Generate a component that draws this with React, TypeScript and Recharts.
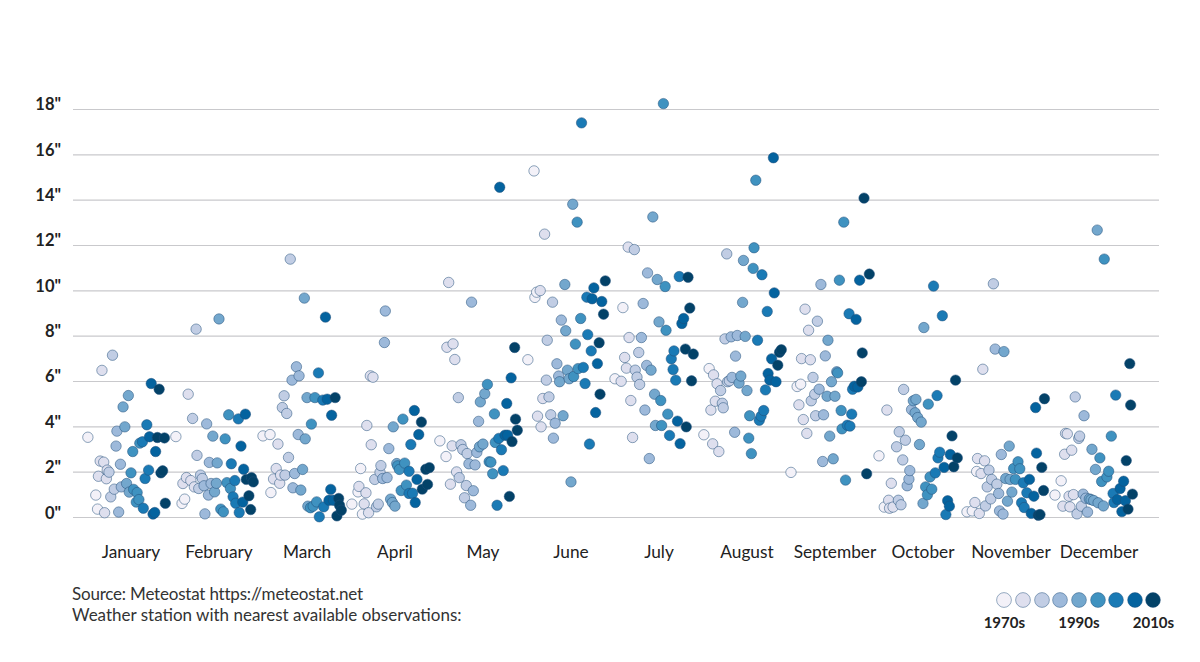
import * as React from "react";
import { ScatterChart, Scatter, CartesianGrid, XAxis, YAxis } from "recharts";

// one point per year: [position around the month tick, inches of rain, decade shade]
type Row = [number, number, number];

const months = ["January", "February", "March", "April", "May", "June", "July", "August", "September", "October", "November", "December"];
const yTicks = [0, 2, 4, 6, 8, 10, 12, 14, 16, 18];
const shades = ["#f3f1f8", "#dedfee", "#c1cde4", "#9db9da", "#73a7cd", "#3f92c0", "#1a7ab5", "#04639f", "#034268"];
const legendLabels = ["1970s", "", "", "", "1990s", "", "", "", "2010s"];

const january: Row[] = [
  [-.49, 3.54, 0], [-.40, .99, 0], [-.38, .37, 0], [-.37, 1.82, 1], [-.35, 2.49, 1], [-.33, 6.49, 1], [-.31, 2.44, 1], [-.30, .21, 1],
  [-.28, 1.71, 1], [-.27, 2.09, 1], [-.25, 2.0, 2], [-.23, .91, 2], [-.21, 7.16, 2], [-.19, 1.25, 2], [-.17, 3.15, 3], [-.16, 3.81, 3],
  [-.14, .24, 3], [-.12, 2.35, 3], [-.11, 1.35, 3], [-.09, 4.88, 4], [-.07, 4.0, 4], [-.05, 1.5, 4], [-.03, 5.38, 4], [-.02, 1.12, 4],
  [0, 1.97, 5], [.02, 2.91, 5], [.03, 1.24, 5], [.06, .68, 5], [.07, 1.1, 5], [.09, .79, 5], [.10, 3.28, 5], [.13, 3.34, 6],
  [.14, .41, 6], [.16, 1.72, 6], [.18, 4.09, 6], [.20, 2.09, 6], [.21, 3.56, 7], [.23, 5.91, 7], [.25, .15, 7], [.27, .22, 7],
  [.28, 2.91, 7], [.30, 3.53, 8], [.32, 5.66, 8], [.34, 1.97, 8], [.36, 2.06, 8], [.38, 3.51, 8], [.39, .63, 8],
];
const february: Row[] = [
  [-.49, 3.57, 0], [-.42, .62, 0], [-.41, 1.5, 1], [-.39, .81, 0], [-.37, 1.76, 1], [-.35, 5.44, 1], [-.32, 1.63, 1], [-.30, 4.37, 2],
  [-.28, 1.35, 1], [-.26, 8.31, 2], [-.25, 2.74, 2], [-.23, 1.28, 2], [-.21, 1.87, 2], [-.19, 1.72, 2], [-.17, 1.4, 3], [-.16, .16, 3],
  [-.14, 4.13, 3], [-.12, .99, 3], [-.11, 2.43, 3], [-.09, 1.5, 3], [-.07, 3.59, 4], [-.05, 1.13, 4], [-.03, 1.51, 4], [-.02, 2.41, 4],
  [0, 8.76, 4], [.02, .37, 5], [.05, .25, 5], [.07, 3.47, 5], [.09, 1.54, 5], [.11, 4.53, 5], [.13, 1.28, 5], [.14, 2.37, 6],
  [.16, .91, 6], [.18, 1.63, 6], [.19, .63, 6], [.22, 4.35, 6], [.23, .22, 6], [.25, 3.15, 7], [.27, .68, 7], [.28, 2.13, 7],
  [.30, 4.56, 7], [.31, 1.68, 8], [.34, .96, 8], [.36, .35, 8], [.37, 1.76, 8], [.39, 1.57, 8],
];
const march: Row[] = [
  [-.50, 3.6, 0], [-.42, 3.66, 0], [-.41, 1.1, 0], [-.38, 1.7, 1], [-.35, 2.16, 1], [-.33, 3.24, 1], [-.31, 1.51, 1], [-.30, 1.87, 1],
  [-.28, 4.85, 2], [-.26, 5.37, 2], [-.25, 1.87, 2], [-.23, 4.59, 2], [-.21, 2.65, 2], [-.19, 11.4, 2], [-.17, 6.06, 3], [-.16, 1.31, 3],
  [-.14, 1.94, 3], [-.12, 6.65, 3], [-.10, 3.66, 3], [-.09, 6.25, 3], [-.07, 1.21, 4], [-.05, 2.12, 4], [-.03, 9.68, 4], [-.02, 3.47, 4],
  [0, 5.29, 4], [.01, .5, 4], [.04, .43, 5], [.05, 4.12, 5], [.07, .5, 5], [.09, 5.29, 5], [.11, .69, 5], [.13, 6.38, 6],
  [.14, .03, 6], [.18, 5.18, 6], [.19, .47, 6], [.21, 8.84, 7], [.23, 5.22, 7], [.25, .76, 7], [.27, 1.24, 7], [.28, 4.51, 7],
  [.30, .76, 7], [.32, 5.29, 8], [.34, .07, 8], [.36, .84, 8], [.37, .54, 8], [.39, .32, 8],
];
const april: Row[] = [
  [-.49, .59, 0], [-.42, 1.13, 0], [-.41, 1.37, 1], [-.39, 2.16, 0], [-.37, .15, 0], [-.35, .6, 1], [-.33, 1.09, 1], [-.32, 4.06, 1],
  [-.30, .21, 1], [-.28, 6.25, 1], [-.27, 3.21, 1], [-.25, 6.19, 1], [-.23, 1.68, 2], [-.21, .47, 2], [-.19, .59, 2], [-.17, 1.99, 2],
  [-.16, 2.29, 2], [-.14, 1.72, 3], [-.12, 7.72, 3], [-.11, 9.11, 3], [-.09, 1.76, 3], [-.07, 3.04, 3], [-.05, .81, 4], [-.03, .66, 4],
  [-.02, 4.0, 4], [0, .5, 4], [.02, 2.38, 4], [.03, 2.28, 5], [.05, 2.12, 5], [.07, 1.19, 5], [.09, 4.34, 5], [.11, 2.4, 5],
  [.13, 1.43, 5], [.16, 1.06, 6], [.16, 2.04, 6], [.18, 3.22, 6], [.20, 1.07, 6], [.22, 4.72, 7], [.23, .66, 7], [.25, 1.68, 7],
  [.27, 3.66, 7], [.30, 4.21, 8], [.31, 1.25, 8], [.35, 2.13, 8], [.37, 1.46, 8], [.39, 2.2, 8],
];
const may: Row[] = [
  [-.49, 3.38, 0], [-.42, 2.69, 0], [-.41, 7.51, 1], [-.39, 10.37, 1], [-.37, 1.47, 1], [-.35, 3.16, 1], [-.34, 7.66, 1], [-.32, 6.97, 1],
  [-.30, 2.01, 1], [-.28, 5.29, 2], [-.27, 1.76, 2], [-.25, 3.21, 2], [-.23, 3.0, 2], [-.21, .87, 2], [-.19, 1.41, 2], [-.18, 2.82, 2],
  [-.16, 2.37, 3], [-.14, .54, 3], [-.13, 9.5, 3], [-.11, 1.18, 3], [-.09, 2.32, 3], [-.07, 2.87, 3], [-.05, 4.24, 3], [-.04, 3.12, 4],
  [-.03, 5.1, 4], [0, 3.24, 4], [.02, 5.46, 4], [.05, 5.87, 5], [.07, 2.46, 5], [.09, 2.44, 5], [.11, 1.93, 5], [.13, 4.57, 5],
  [.14, 3.31, 5], [.16, .54, 6], [.18, 3.49, 6], [.19, 14.57, 7], [.21, 2.99, 6], [.23, 2.07, 6], [.25, 3.63, 7], [.27, 5.03, 7],
  [.28, 3.63, 7], [.30, .93, 8], [.32, 6.16, 7], [.33, 3.35, 8], [.36, 7.5, 8], [.37, 4.34, 8], [.39, 3.85, 8],
];
const june: Row[] = [
  [-.49, 6.96, 0], [-.42, 15.29, 0], [-.41, 9.71, 0], [-.39, 9.94, 0], [-.38, 4.47, 1], [-.35, 10.01, 1], [-.34, 4.0, 1], [-.32, 5.25, 1],
  [-.30, 12.5, 1], [-.28, 6.06, 2], [-.27, 7.82, 2], [-.25, 5.32, 2], [-.23, 4.53, 2], [-.21, 9.5, 2], [-.20, 3.5, 3], [-.18, 4.16, 3],
  [-.16, 6.78, 3], [-.14, 6.24, 3], [-.13, 5.99, 4], [-.11, 8.71, 3], [-.09, 4.49, 4], [-.07, 10.28, 4], [-.06, 8.24, 4], [-.04, 6.5, 4],
  [-.02, 6.12, 4], [0, 1.57, 4], [.02, 13.82, 4], [.03, 6.22, 5], [.05, 7.65, 5], [.07, 13.03, 5], [.08, 6.57, 5], [.11, 8.78, 5],
  [.12, 17.41, 6], [.14, 6.62, 6], [.16, 5.91, 6], [.18, 9.72, 6], [.19, 8.07, 6], [.21, 3.24, 6], [.23, 7.35, 6], [.24, 9.65, 7],
  [.26, 10.13, 7], [.28, 4.63, 7], [.30, 6.79, 7], [.32, 7.71, 8], [.33, 5.44, 8], [.35, 9.53, 7], [.37, 8.97, 8], [.39, 10.44, 8],
];
const july: Row[] = [
  [-.50, 6.12, 0], [-.43, 6.01, 1], [-.41, 9.26, 0], [-.39, 7.06, 1], [-.37, 6.59, 1], [-.35, 11.93, 1], [-.34, 7.94, 1], [-.32, 5.16, 1],
  [-.30, 3.53, 1], [-.28, 11.82, 2], [-.27, 6.5, 2], [-.25, 6.19, 2], [-.23, 7.28, 2], [-.22, 5.87, 2], [-.20, 7.94, 3], [-.18, 9.44, 3],
  [-.16, 4.74, 3], [-.14, 6.71, 3], [-.13, 10.79, 3], [-.11, 2.6, 3], [-.09, 6.5, 4], [-.07, 13.26, 4], [-.05, 5.44, 4], [-.04, 4.06, 4],
  [-.02, 10.5, 4], [0, 8.63, 4], [.02, 5.16, 5], [.03, 4.06, 5], [.05, 18.26, 5], [.07, 10.19, 5], [.08, 8.26, 5], [.10, 4.56, 5],
  [.12, 3.62, 6], [.14, 7.0, 6], [.16, 6.53, 6], [.17, 7.35, 6], [.19, 6.06, 6], [.21, 4.25, 7], [.23, 10.63, 6], [.24, 3.26, 7],
  [.26, 8.56, 7], [.28, 8.78, 7], [.30, 7.43, 8], [.31, 4.0, 8], [.33, 10.6, 8], [.35, 9.24, 8], [.37, 6.03, 8], [.39, 7.21, 8],
];
const august: Row[] = [
  [-.49, 3.65, 0], [-.43, 6.57, 0], [-.41, 4.74, 1], [-.39, 3.25, 1], [-.38, 6.29, 1], [-.36, 5.13, 1], [-.34, 5.9, 1], [-.32, 2.91, 1],
  [-.30, 5.6, 2], [-.28, 5.04, 2], [-.27, 4.84, 2], [-.25, 7.88, 2], [-.23, 11.63, 2], [-.22, 5.99, 2], [-.20, 6.03, 2], [-.18, 7.97, 3],
  [-.17, 6.18, 3], [-.14, 3.76, 3], [-.13, 7.12, 3], [-.11, 8.03, 3], [-.09, 5.93, 4], [-.07, 6.24, 4], [-.05, 9.49, 4], [-.04, 11.34, 4],
  [-.02, 7.99, 4], [0, 5.6, 4], [.02, 3.5, 5], [.03, 4.49, 5], [.05, 2.82, 5], [.07, 10.99, 5], [.08, 11.9, 5], [.10, 14.88, 5],
  [.12, 7.82, 6], [.14, 4.29, 6], [.16, 4.47, 6], [.17, 10.71, 6], [.19, 4.72, 6], [.21, 5.63, 6], [.23, 9.09, 6], [.24, 6.35, 7],
  [.26, 6.06, 7], [.28, 7.0, 7], [.30, 15.87, 7], [.31, 9.91, 7], [.33, 5.99, 7], [.35, 6.72, 8], [.37, 7.29, 8], [.39, 7.4, 8],
];
const september: Row[] = [
  [-.50, 1.99, 0], [-.43, 5.78, 0], [-.41, 4.97, 1], [-.39, 5.88, 0], [-.38, 7.01, 1], [-.36, 4.32, 1], [-.34, 9.19, 1], [-.32, 3.71, 1],
  [-.30, 8.26, 1], [-.28, 6.96, 1], [-.27, 5.15, 2], [-.25, 6.18, 2], [-.23, 5.44, 2], [-.22, 4.49, 2], [-.20, 8.66, 2], [-.18, 5.66, 3],
  [-.16, 10.28, 3], [-.14, 2.47, 3], [-.13, 4.53, 3], [-.11, 7.13, 3], [-.09, 5.35, 4], [-.08, 7.82, 4], [-.06, 3.59, 4], [-.04, 5.99, 4],
  [-.02, 2.59, 4], [0, 5.35, 4], [.02, 6.43, 4], [.03, 6.38, 5], [.05, 10.47, 5], [.07, 4.72, 5], [.08, 3.91, 5], [.10, 13.03, 5],
  [.12, 1.65, 5], [.14, 4.07, 6], [.16, 8.99, 6], [.17, 4.03, 6], [.19, 4.56, 6], [.20, 5.66, 6], [.22, 5.79, 7], [.24, 8.74, 7],
  [.26, 5.76, 7], [.28, 10.47, 7], [.30, 5.99, 8], [.31, 7.26, 8], [.33, 14.09, 8], [.36, 1.93, 8], [.39, 10.74, 8],
];
const october: Row[] = [
  [-.50, 2.72, 0], [-.44, .46, 0], [-.41, 4.74, 1], [-.39, .76, 1], [-.38, .41, 1], [-.36, 1.51, 1], [-.34, .46, 1], [-.30, 3.12, 2],
  [-.28, .76, 2], [-.27, 3.78, 2], [-.25, .56, 2], [-.23, 2.54, 2], [-.22, 5.65, 2], [-.20, 3.41, 2], [-.18, 1.4, 3], [-.16, 1.69, 3],
  [-.15, 2.07, 3], [-.13, 4.76, 3], [-.11, 5.15, 4], [-.09, 4.62, 4], [-.08, 5.21, 4], [-.06, 4.41, 4], [-.04, 3.22, 4], [-.02, 4.21, 4],
  [0, .62, 4], [.01, 8.38, 4], [.03, 1.35, 5], [.05, 1.0, 5], [.06, 5.0, 5], [.08, 1.79, 5], [.10, 1.25, 5], [.12, 10.21, 6],
  [.14, 1.97, 6], [.16, 5.38, 6], [.17, 2.63, 6], [.19, 2.88, 6], [.22, 8.9, 6], [.24, 2.21, 7], [.26, .13, 6], [.28, .74, 7],
  [.30, .5, 7], [.31, 2.78, 7], [.33, 3.6, 8], [.35, 2.24, 8], [.37, 6.06, 8], [.39, 2.63, 8],
];
const november: Row[] = [
  [-.50, .25, 0], [-.44, .29, 0], [-.41, .66, 1], [-.39, 2.03, 0], [-.38, 2.6, 1], [-.36, .18, 1], [-.34, 1.94, 1], [-.32, 6.54, 1],
  [-.30, 2.5, 1], [-.29, .51, 2], [-.27, 1.35, 2], [-.25, 2.09, 2], [-.23, .82, 2], [-.22, 1.68, 2], [-.20, 10.31, 2], [-.18, 7.43, 3],
  [-.16, 1.47, 2], [-.14, 1.06, 3], [-.13, .29, 3], [-.11, 2.78, 3], [-.09, .15, 3], [-.08, 7.32, 4], [-.06, 1.72, 4], [-.04, .72, 4],
  [-.02, 3.15, 4], [-.01, 1.68, 4], [.01, 1.12, 4], [.03, 2.16, 5], [.05, 1.68, 5], [.08, 2.46, 5], [.10, 2.15, 5], [.12, .65, 6],
  [.14, 1.53, 6], [.15, .44, 6], [.18, 1.09, 6], [.21, 1.68, 7], [.23, .18, 7], [.26, .94, 7], [.28, 4.85, 7], [.29, 2.84, 7],
  [.31, .1, 8], [.33, .13, 8], [.35, 2.21, 8], [.37, 1.19, 8], [.38, 5.24, 8],
];
const december: Row[] = [
  [-.50, .99, 0], [-.43, 1.62, 0], [-.41, .5, 1], [-.39, 2.79, 1], [-.38, 3.71, 1], [-.36, 3.69, 1], [-.34, .94, 1], [-.33, .47, 1],
  [-.31, 2.97, 1], [-.29, 1.01, 1], [-.27, 5.32, 2], [-.25, .16, 2], [-.23, 3.49, 2], [-.22, 3.59, 2], [-.20, .5, 2], [-.18, 1.03, 3],
  [-.17, 4.49, 3], [-.15, .85, 3], [-.13, .24, 3], [-.11, .82, 4], [-.09, .79, 4], [-.08, 3.01, 4], [-.06, .75, 4], [-.04, 2.12, 4],
  [-.02, 12.68, 4], [-.01, .65, 4], [.01, 2.63, 5], [.03, 1.59, 5], [.05, .51, 4], [.06, 11.4, 5], [.09, 1.79, 5], [.11, 2.04, 5],
  [.14, 3.59, 5], [.16, 1.06, 6], [.17, .66, 6], [.19, 5.4, 6], [.21, .79, 7], [.24, 1.28, 7], [.26, .26, 7], [.28, 1.6, 7],
  [.30, .74, 7], [.31, 2.51, 8], [.33, .37, 8], [.35, 6.79, 8], [.36, 4.96, 8], [.38, 1.03, 8],
];

const perMonth = [january, february, march, april, may, june, july, august, september, october, november, december];

const points = perMonth.flatMap((rows, m) =>
  rows.map(([pos, inches, shade]) => ({ x: m + pos, y: inches, shade }))
);

const FONT = "Lato, 'Open Sans', sans-serif";

function Dot(props: any) {
  return (
    <circle
      cx={props.cx}
      cy={props.cy}
      r={5.2}
      fill={props.fillColor}
      stroke="#1f4e79"
      strokeOpacity={0.5}
      strokeWidth={1}
    />
  );
}

// y labels sit a little above their grid line
function YTick(props: any) {
  return (
    <text x={props.x} y={props.y} dy={1} textAnchor="end" fill="#222" fontSize={16.5} fontWeight={700} fontFamily={FONT}>
      {`${props.payload.value}"`}
    </text>
  );
}

export default function App() {
  return (
    <div style={{ position: "absolute", left: 0, top: 0, width: 1200, height: 662, background: "#fff", fontFamily: FONT, overflow: "hidden" }}>
      <ScatterChart width={1200} height={662} margin={{ top: 86.83, right: 41, bottom: 94.5, left: 0 }}>
        <CartesianGrid horizontal vertical={false} horizontalValues={yTicks} stroke="#c9c9cc" strokeWidth={1.2} />
        <XAxis
          type="number"
          dataKey="x"
          domain={[-0.659, 11.682]}
          ticks={months.map((_, i) => i)}
          tickFormatter={(v) => months[Number(v)]}
          interval={0}
          height={50}
          axisLine={false}
          tickLine={false}
          tickMargin={22}
          tick={{ fill: "#222", fontSize: 17.3, fontFamily: FONT }}
        />
        <YAxis
          type="number"
          dataKey="y"
          domain={[0, 19]}
          ticks={yTicks}
          interval={0}
          width={73}
          axisLine={false}
          tickLine={false}
          tickMargin={6}
          tick={<YTick />}
        />
        {shades.map((color, s) => (
          <Scatter
            key={color}
            data={points.filter((p) => p.shade === s)}
            isAnimationActive={false}
            shape={(p: any) => <Dot {...p} fillColor={color} />}
          />
        ))}
      </ScatterChart>

      <div style={{ position: "absolute", left: 72, top: 583, fontSize: 17, lineHeight: "21px", color: "#333", whiteSpace: "nowrap" }}>
        <span style={{ letterSpacing: -0.2 }}>Source: Meteostat https://meteostat.net</span>
        <br />
        Weather station with nearest available observations:
      </div>

      <div style={{ position: "absolute", left: 995, top: 590, display: "flex" }}>
        {shades.map((color, s) => (
          <div key={color} style={{ width: 18.65, display: "flex", flexDirection: "column", alignItems: "center" }}>
            <svg width={18} height={20} style={{ overflow: "visible" }}>
              <circle cx={9} cy={10} r={7.4} fill={color} stroke="#1f4e79" strokeOpacity={0.45} />
            </svg>
            <span style={{ marginTop: 3, fontSize: 15, fontWeight: 700, color: "#222", whiteSpace: "nowrap", height: 18 }}>
              {legendLabels[s]}
            </span>
          </div>
        ))}
      </div>
    </div>
  );
}
